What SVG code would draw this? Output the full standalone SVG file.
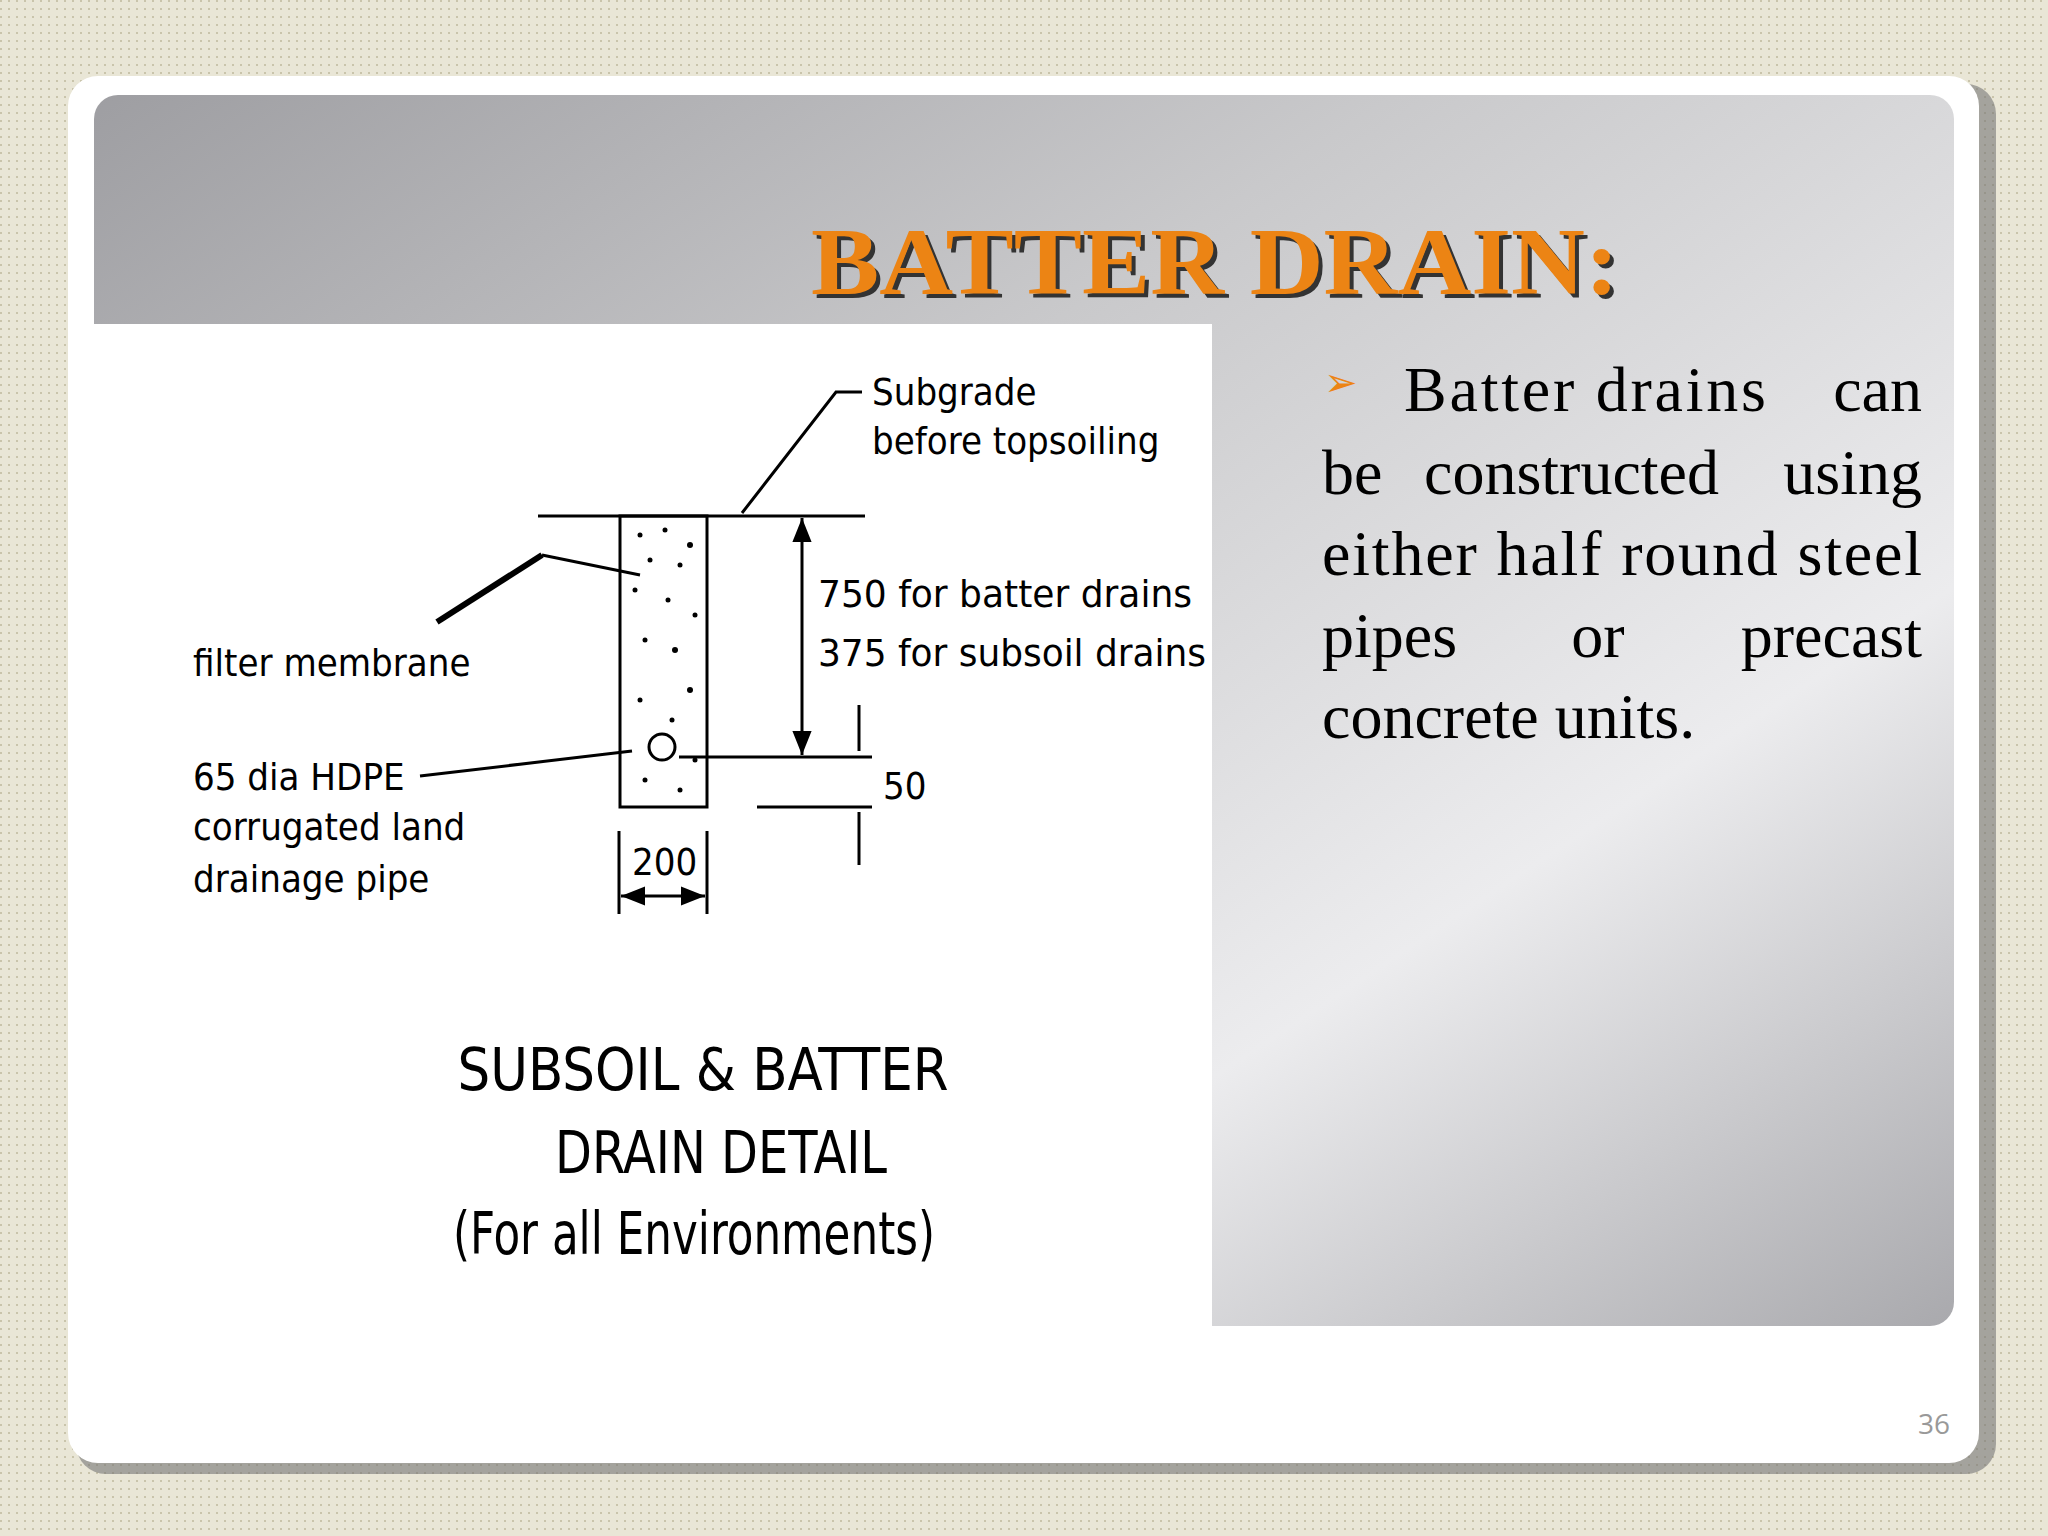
<svg xmlns="http://www.w3.org/2000/svg" width="2048" height="1536" viewBox="0 0 2048 1536">
<defs>
<pattern id="bgp" width="8" height="8" patternUnits="userSpaceOnUse"><rect width="8" height="8" fill="#e9e6d6"/><rect x="0" y="0" width="2" height="2" fill="#c9c4ab"/></pattern>
<linearGradient id="gp" x1="0" y1="0" x2="1" y2="1"><stop offset="0" stop-color="#9e9ea2"/><stop offset="0.35" stop-color="#c9c9cb"/><stop offset="0.7" stop-color="#ececee"/><stop offset="1" stop-color="#a9a9ad"/></linearGradient>
<marker id="ar" viewBox="0 0 10 10" refX="10" refY="5" markerWidth="8" markerHeight="8" orient="auto-start-reverse"><path d="M0,1 L10,5 L0,9 Z" fill="#000"/></marker>
<style>
.d{stroke:#000;stroke-width:3;fill:none}
.t{font-family:"DejaVu Sans Condensed","DejaVu Sans",sans-serif;font-size:38px;fill:#000}
.c{font-family:"DejaVu Sans Condensed","DejaVu Sans",sans-serif;font-size:58px;fill:#000;text-anchor:middle}
.b{font-family:"Liberation Serif",serif;font-size:64px;fill:#000}
</style>
</defs>
<rect width="2048" height="1536" fill="url(#bgp)"/>
<rect x="76" y="84" width="1920" height="1390" rx="30" fill="#777" opacity="0.6"/>
<rect x="68" y="76" width="1911" height="1387" rx="30" fill="#fff"/>
<rect x="94" y="95" width="1860" height="1231" rx="24" fill="url(#gp)"/>
<text x="1219" y="298" text-anchor="middle" font-family="Liberation Serif,serif" font-weight="bold" font-size="96" fill="#333" textLength="808" lengthAdjust="spacingAndGlyphs">BATTER DRAIN:</text>
<text x="1215" y="294" text-anchor="middle" font-family="Liberation Serif,serif" font-weight="bold" font-size="96" fill="#ec8414" textLength="808" lengthAdjust="spacingAndGlyphs">BATTER DRAIN:</text>
<g id="bullets">
<text x="1324" y="396" font-family="DejaVu Sans,sans-serif" font-size="40" fill="#ec8414">➢</text>
<text class="b" x="1404" y="411" textLength="362" lengthAdjust="spacing">Batter drains</text>
<text class="b" x="1922" y="411" text-anchor="end">can</text>
<text class="b" x="1322" y="494">be</text>
<text class="b" x="1424" y="494">constructed</text>
<text class="b" x="1922" y="494" text-anchor="end">using</text>
<text class="b" x="1322" y="575" textLength="600" lengthAdjust="spacing">either half round steel</text>
<text class="b" x="1322" y="657">pipes</text>
<text class="b" x="1598" y="657" text-anchor="middle">or</text>
<text class="b" x="1922" y="657" text-anchor="end">precast</text>
<text class="b" x="1322" y="738">concrete units.</text>
</g>
<text x="1950" y="1434" text-anchor="end" font-family="Open Sans,sans-serif" font-size="28" fill="#999">36</text>
<rect x="85" y="324" width="1127" height="1004" fill="#fff"/>
<g id="drawing">
<line class="d" x1="538" y1="516" x2="865" y2="516"/>
<rect class="d" x="620" y="516" width="87" height="291"/>
<polyline class="d" points="742,513 836,392 862,392"/>
<line class="d" x1="802" y1="518" x2="802" y2="755" marker-start="url(#ar)" marker-end="url(#ar)"/>
<line class="d" x1="679" y1="757" x2="872" y2="757"/>
<line class="d" x1="757" y1="807" x2="872" y2="807"/>
<line class="d" x1="859" y1="705" x2="859" y2="751"/>
<line class="d" x1="859" y1="812" x2="859" y2="865"/>
<circle class="d" cx="662" cy="747" r="13"/>
<line x1="437" y1="622" x2="542" y2="555" stroke="#000" stroke-width="6"/>
<line class="d" x1="542" y1="555" x2="640" y2="575"/>
<line class="d" x1="420" y1="776" x2="632" y2="751"/>
<line class="d" x1="619" y1="831" x2="619" y2="914"/>
<line class="d" x1="707" y1="831" x2="707" y2="914"/>
<line class="d" x1="621" y1="896" x2="705" y2="896" marker-start="url(#ar)" marker-end="url(#ar)"/>
<g fill="#000">
<circle cx="640" cy="535" r="2.5"/><circle cx="665" cy="530" r="2.5"/><circle cx="690" cy="545" r="3"/><circle cx="650" cy="560" r="2.5"/><circle cx="680" cy="565" r="2.5"/><circle cx="635" cy="590" r="2.5"/><circle cx="668" cy="600" r="2.5"/><circle cx="695" cy="615" r="2.5"/><circle cx="645" cy="640" r="2.5"/><circle cx="675" cy="650" r="3"/><circle cx="690" cy="690" r="3"/><circle cx="640" cy="700" r="2.5"/><circle cx="672" cy="720" r="2.5"/><circle cx="695" cy="760" r="2.5"/><circle cx="645" cy="780" r="2.5"/><circle cx="680" cy="790" r="2.5"/>
</g>
<text class="t" x="872" y="405">Subgrade</text>
<text class="t" x="872" y="454">before topsoiling</text>
<text class="t" x="818" y="607" textLength="374" lengthAdjust="spacingAndGlyphs">750 for batter drains</text>
<text class="t" x="818" y="666" textLength="388" lengthAdjust="spacingAndGlyphs">375 for subsoil drains</text>
<text class="t" x="883" y="799">50</text>
<text class="t" x="193" y="676">filter membrane</text>
<text class="t" x="193" y="790">65 dia HDPE</text>
<text class="t" x="193" y="840">corrugated land</text>
<text class="t" x="193" y="892">drainage pipe</text>
<text class="t" x="632" y="875">200</text>
<text class="c" x="703" y="1090" textLength="491" lengthAdjust="spacingAndGlyphs">SUBSOIL &amp; BATTER</text>
<text class="c" x="721" y="1173" textLength="332" lengthAdjust="spacingAndGlyphs">DRAIN DETAIL</text>
<text class="c" x="694" y="1254" textLength="482" lengthAdjust="spacingAndGlyphs">(For all Environments)</text>
</g>
</svg>
